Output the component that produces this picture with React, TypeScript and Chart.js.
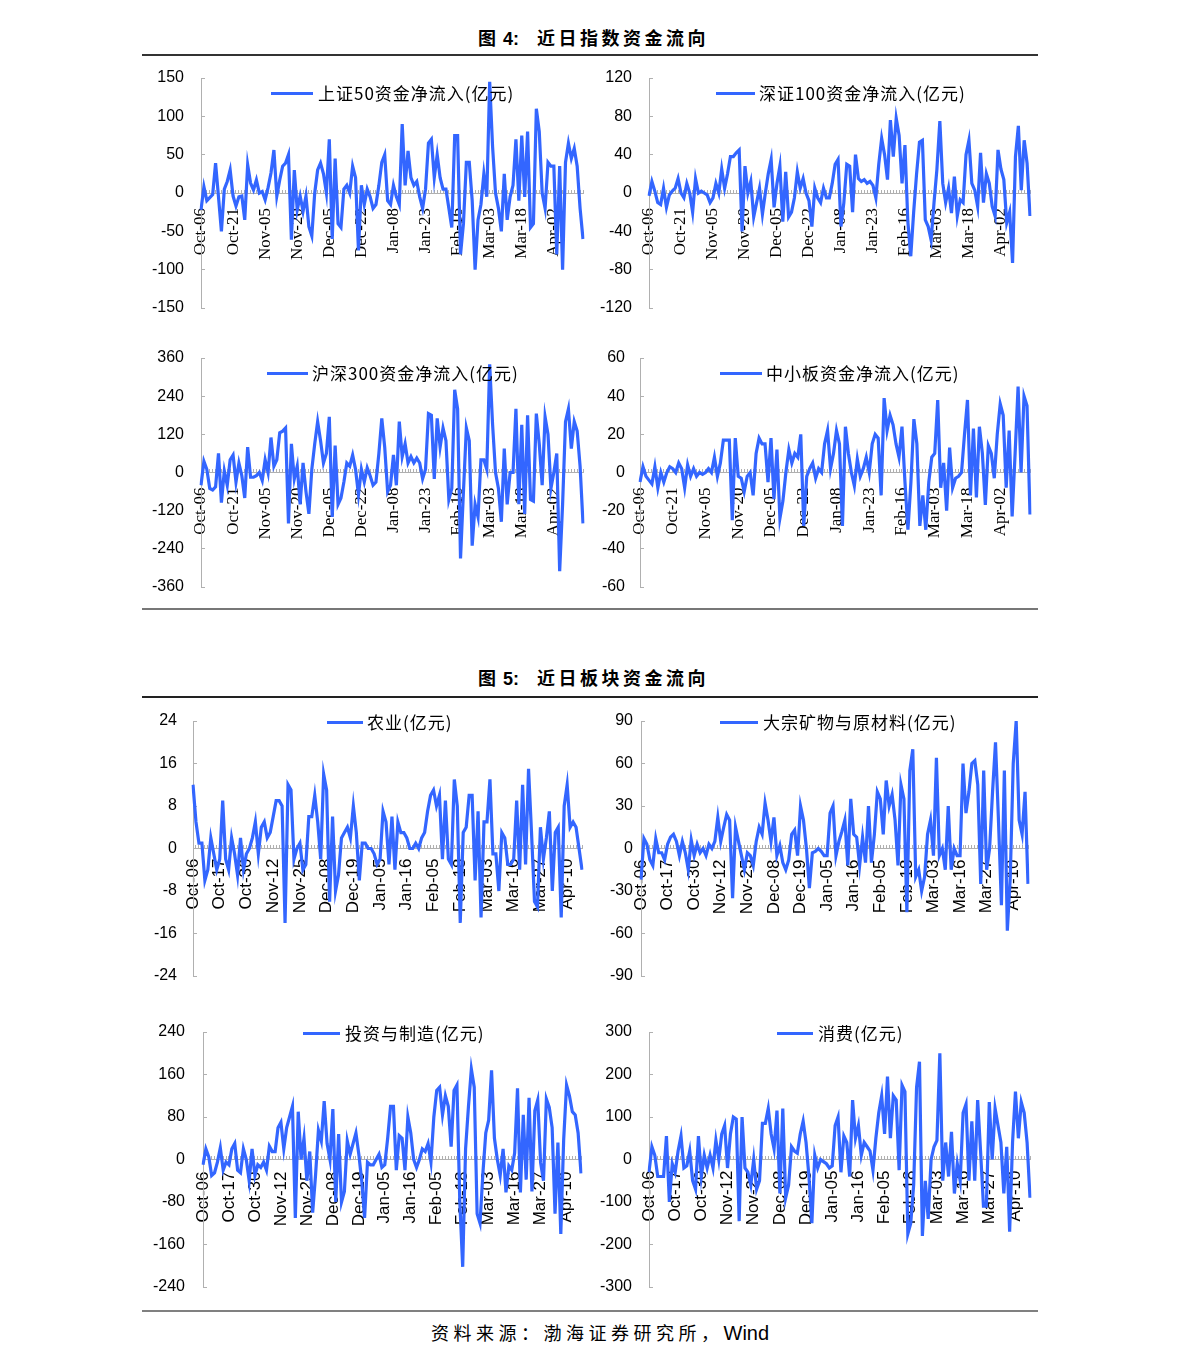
import React, { useEffect, useRef } from 'react';
import { Chart, registerables } from 'chart.js';

Chart.register(...registerables);

// ---------- data ----------
const N_POINTS = 132;

const INDEX_TICKS = ['Oct-06', 'Oct-21', 'Nov-05', 'Nov-20', 'Dec-05', 'Dec-22', 'Jan-08', 'Jan-23', 'Feb-16', 'Mar-03', 'Mar-18', 'Apr-02'];
const INDEX_TICK_STEP = 11;

const SECTOR_TICKS = ['Oct-06', 'Oct-17', 'Oct-30', 'Nov-12', 'Nov-25', 'Dec-08', 'Dec-19', 'Jan-05', 'Jan-16', 'Feb-05', 'Feb-18', 'Mar-03', 'Mar-16', 'Mar-27', 'Apr-10'];
const SECTOR_TICK_STEP = 9;

const SZ50 = [
  -22, 8, -10, -6, -2, 39, -5, -50, 5, 15, 30,
  -4, -17, -5, -4, -35, 37, 13, 4, 17, 0, 2,
  -9, 7, 26, 56, -4, 17, 35, 39, 50, -61, 30,
  -22, -4, -24, -4, -44, -56, 0, 30, 39, 25, 0,
  70, -60, 45, -40, -45, 5, 10, 0, 35, 20, -75,
  10, -15, 5, -5, -20, -15, 10, 40, 50, -10, -15,
  10, -5, -15, 90, 10, 55, 20, 10, 15, -5, -20,
  5, 65, 70, 20, 50, 20, 5, 5, -20, -45, 75,
  75, -80, -40, 40, 40, -10, -100, -35, -15, 25, -5,
  145, 60, 0, -20, -50, 25, -35, -5, 10, 70, -10,
  75, -5, 80, -45, -40, 110, 80, 0, -20, 40, 35,
  35, -80, 35, -100, 40, 65, 45, 58, 35, -20, -60,
];

const SZ100 = [
  -3, 12, 2, -10, -12, 5, -15, -2, 2, 5, 15,
  0, -5, 10, 0, -20, 15, 0, 2, 0, -2, -10,
  -5, 10, 0, 25, 5, 20, 38, 38, 42, 45, -40, 28,
  0, 12, -25, -10, 5, -22, 0, 20, 35, -15, 10,
  28, -30, 22, -25, -20, -5, 22, 5, 15, 0, -8,
  -35, 5, -5, -10, 5, -5, -5, 10, 30, 35, -35,
  -10, 30, 28, -20, 40,
  15, 12, 14, 10, 12, 8, -5, 30, 57, 40, 14, 76, 38, 78, 60, 10, 50, -30, -66, -20,
  20, 53, 55, -28, -35, -49, -10, 25, 75, 10, -10, 5, -21, 17, -24, -7, -10, 40, 55, 10,
  3, -14, 42, -10, 20, 10, -14, -24, 45, 25, 14, -31, -20, -73, 38, 70, 3, 55, 31, -24,
];

const HS300 = [
  -40, 35, 10, -50, -55, -45, 60, -95, 5, -40, 40,
  55, -30, 30, -10, -80, 80, -15, -15, -10, 0, -25,
  40, 0, 110, 20, 40, 125, 130, 140, -160, 90, -20,
  20, -100, 30, -60, -130, 10, 90, 160, 100, 30, 60,
  175, -140, 85, -100, -80, -30, 30, 20, 55, 10, -70,
  10, -30, 15, -10, -40, -30, 60, 170, 80, -60, -40,
  55, -40, 160, 50, 90, 30, 50, 30, 45, 30, -20,
  10, 185, 180, -20, 170, 80, 140, 100, -85, -50, 260,
  200, -270, -60, 140, 100, -230, -100, -140, 40, 40, 10,
  340, 150, 0, -50, -155, 75, -100, 0, 0, 200, -100,
  150, -130, 180, -85, -90, 185, 90, -40, 175, 120, -50,
  0, 60, -310, -100, 160, 200, 75, 160, 130, 20, -160,
];

const ZXB = [
  -5, 3, -2, -4, -6, 3, -8, 0, -5, 0, 3, 2,
  0, 5, 2, -8, 4, -2, 2, -2, 0, -1, 0,
  2, 0, 8, -2, 5, 17, 17, 17, -25, 18, -2,
  -3, -10, -2, 0, -12, 10, 18, 15, 15, -5, 18,
  -14, 12, -24, -15, 0, 12, 5, 10, 8, 20, -28,
  -2, 2, 5, -3, 2, 0, 15, 22, 2, 10, 22,
  15, -28, 24, 10, 0, -7, 7, -2, 2, 8, 0,
  15, 20, 18, -12, 39, 22, 30, 25, 15, 8, 24,
  -5, -30, -5, 28, 15, -28, -12, -30, -5, 8, 10,
  38, -8, 5, -20, 13, -8, -3, -2, 0, 20, 38,
  -12, 23, -13, 24, 10, -17, 14, 10, -3, 20, 36,
  30, -8, 22, -23, 10, 45, 0, 40, 35, -22,
];

const AGRI = [
  12, 5, 1, 1, -6, -4, 2, -1, -4, -2,
  9, -2, -4, 2, -1, -5, 2, -4, -1,
  0, 2, 5, -1, 4, 5, 2, 3, 6,
  9, 9, 8, -14, 12, 11, -2, 0, 1,
  -4, -3, 6, 6, 10, 5, -2, 14, 11,
  -10, 6, -8, -5, 2, 3, 4, 2, 8,
  3, -6, 1, 1, 0, 0, -1, -3, -2,
  7, 5, -3, 6, -4, 5, 3, 3, 2,
  0, 0, 1, 0, 2, 3, 7, 10, 11,
  8, 10, -2, 9, -2, -3, 13, 8, -14,
  3, 4, 10, 10, -6, 7, -13, 5, 5,
  13, -1, -1, -8, 3, 2, -3, -3, -2,
  9, -4, 12, -3, 15, 3, -10, -11, 4,
  -2, 2, 7, -8, 3, 4, -13, 8, 12,
  4, 5, 4, 0, -4,
];

const MATERIALS = [
  -22, 7, 3, -8, -12, 7, -3, -3, -8, 3,
  8, 10, 5, -5, 5, -3, -15, 6, -5,
  3, -3, 0, -5, 3, 0, 5, 22, 5,
  15, 24, 20, -35, 15, 5, -5, -15, -3,
  -5, -12, 5, 15, 10, 32, 20, 5, 22,
  -5, 2, -10, -15, -8, 10, 13, -5, 30,
  20, 0, -28, -3, -2, 0, -2, -5, -5,
  25, 30, -5, 5, 12, 20, -12, 35, 10,
  8, -12, 8, -10, 30, -10, 10, 40, 35,
  10, 48, 30, 38, 20, -12, 45, 35, -45,
  55, 70, -20, -15, -30, -20, 10, 20, -5,
  64, -5, 0, -15, 30, -15, 0, -5, -5,
  60, 25, 40, 60, 62, 45, -25, 55, -15,
  0, 40, 75, 20, -40, 55, -58, -20, 60,
  90, 20, 10, 40, -25,
];

const INVEST = [
  -10, 20, 5, -30, -25, -5, 22, -20, -5, -10,
  20, 30, -20, -25, 20, 0, -40, 20, -30,
  -10, -15, -5, -20, 25, 15, 15, 60, 70,
  20, 60, 80, 100, -110, 90, 0, 40, -40,
  15, -100, -30, 55, 35, 110, 30, 0, 95,
  -80, 48, -80, -60, 35, 10, 30, 50, 10,
  -40, -110, -5, -10, -10, 0, 10, -15, -10,
  40, 100, 100, -20, 45, 40, -20, 80, 50,
  0, -15, 0, 20, 15, 30, -5, 80, 130,
  136, 84, 120, 100, 24, 130, 140, -80, -202, 20,
  100, 170, 136, -102, -120, -26, 50, 74, 168, 40,
  0, -30, 20, -62, -12, -20, 12, 134, -62, 84,
  -38, 116, -60, 92, 112, -6, -40, 114, 98, 60,
  -102, 32, -140, 38, 140, 120, 90, 84, 50, -26,
];

const CONSUME = [
  -30, 30, 10, -40, -40, -40, 55, -100, -10, -30,
  20, 55, -20, -15, 20, -50, -70, 55, -40,
  10, -20, 10, -20, 45, 0, 60, 80, -20,
  60, 100, 95, -145, 100, -20, -30, -60, 0,
  -70, -50, 85, 85, 120, 60, 25, 115, -80,
  120, -90, -60, 30, 20, 15, 60, 90, 40,
  -40, -150, 10, -20, 0, -5, -10, -20, -15,
  80, 100, -30, 55, 40, -40, 140, 50, 80,
  10, 40, 30, 20, -25, 50, 110, 150, 60,
  195, 50, 150, 140, -25, 175, 160, -175, -150,
  -60, 170, 230, -180, -50, -140, 0, 30, 45,
  250, -50, 40, -40, 65, -80, -10, -50, 110,
  130, -50, 90, -50, 140, 20, -110, -110, 135,
  0, 120, 80, 40, -80, 30, -170, 40, 160,
  50, 135, 110, 40, -90,
];

// ---------- styles ----------
const LINE_COLOR = '#3366ff';
const AXIS_COLOR = '#b0b0b0';
const SERIF = '"Liberation Serif", "Times New Roman", serif';
const SANS = '"Liberation Sans", Arial, sans-serif';
const CJK = '"Noto Sans CJK SC", sans-serif';

type Panel = {
  name: string;
  data: number[];
  min: number;
  max: number;
  step: number;
  ticks: string[];
  tickStep: number;
  xFont: string;
  xSize: number;
  axisX: number;
  rightX: number;
  topY: number;
  bottomY: number;
  yGap: number;
  xGap: number;
  legendX1: number;
  legendX2: number;
  legendTextX: number;
  legendY: number;
};

const PANELS: Panel[] = [
  { name: '上证50资金净流入(亿元)', data: SZ50, min: -150, max: 150, step: 50, ticks: INDEX_TICKS, tickStep: INDEX_TICK_STEP, xFont: SERIF, xSize: 17,
    axisX: 201, rightX: 583, topY: 78, bottomY: 308, yGap: 17, xGap: 15, legendX1: 271, legendX2: 313, legendTextX: 318, legendY: 93 },
  { name: '深证100资金净流入(亿元)', data: SZ100, min: -120, max: 120, step: 40, ticks: INDEX_TICKS, tickStep: INDEX_TICK_STEP, xFont: SERIF, xSize: 17,
    axisX: 649, rightX: 1030, topY: 78, bottomY: 308, yGap: 17, xGap: 15, legendX1: 716, legendX2: 755, legendTextX: 759, legendY: 93 },
  { name: '沪深300资金净流入(亿元)', data: HS300, min: -360, max: 360, step: 120, ticks: INDEX_TICKS, tickStep: INDEX_TICK_STEP, xFont: SERIF, xSize: 17,
    axisX: 201, rightX: 583, topY: 358, bottomY: 587, yGap: 17, xGap: 15, legendX1: 267, legendX2: 308, legendTextX: 312, legendY: 373 },
  { name: '中小板资金净流入(亿元)', data: ZXB, min: -60, max: 60, step: 20, ticks: INDEX_TICKS, tickStep: INDEX_TICK_STEP, xFont: SERIF, xSize: 17,
    axisX: 640, rightX: 1030, topY: 358, bottomY: 587, yGap: 15, xGap: 15, legendX1: 720, legendX2: 762, legendTextX: 766, legendY: 373 },
  { name: '农业(亿元)', data: AGRI, min: -24, max: 24, step: 8, ticks: SECTOR_TICKS, tickStep: SECTOR_TICK_STEP, xFont: SANS, xSize: 17,
    axisX: 193, rightX: 582, topY: 721, bottomY: 976, yGap: 16, xGap: 10, legendX1: 327, legendX2: 363, legendTextX: 367, legendY: 722 },
  { name: '大宗矿物与原材料(亿元)', data: MATERIALS, min: -90, max: 90, step: 30, ticks: SECTOR_TICKS, tickStep: SECTOR_TICK_STEP, xFont: SANS, xSize: 17,
    axisX: 641, rightX: 1028, topY: 721, bottomY: 976, yGap: 8, xGap: 11, legendX1: 720, legendX2: 758, legendTextX: 763, legendY: 722 },
  { name: '投资与制造(亿元)', data: INVEST, min: -240, max: 240, step: 80, ticks: SECTOR_TICKS, tickStep: SECTOR_TICK_STEP, xFont: SANS, xSize: 17,
    axisX: 203, rightX: 581, topY: 1032, bottomY: 1287, yGap: 18, xGap: 12, legendX1: 303, legendX2: 340, legendTextX: 345, legendY: 1033 },
  { name: '消费(亿元)', data: CONSUME, min: -300, max: 300, step: 100, ticks: SECTOR_TICKS, tickStep: SECTOR_TICK_STEP, xFont: SANS, xSize: 17,
    axisX: 649, rightX: 1030, topY: 1032, bottomY: 1287, yGap: 17, xGap: 11, legendX1: 777, legendX2: 813, legendTextX: 818, legendY: 1033 },
];

const Y_AXIS_W = 80;
const PAD_T = 14;
const PAD_B = 14;
const PAD_R = 10;
const TICK_LEN = -4;

function ChartPanel({ p }: { p: Panel }) {
  const ref = useRef<HTMLCanvasElement | null>(null);
  const left = p.axisX - Y_AXIS_W;
  const top = p.topY - PAD_T;
  const width = p.rightX - left + PAD_R;
  const height = p.bottomY - top + PAD_B;

  useEffect(() => {
    if (!ref.current) return;
    const labels = Array.from({ length: N_POINTS }, (_, i) =>
      i % p.tickStep === 0 ? (p.ticks[i / p.tickStep] ?? '') : ''
    );
    const chart = new Chart(ref.current, {
      type: 'line',
      data: {
        labels,
        datasets: [
          {
            data: p.data,
            borderColor: LINE_COLOR,
            backgroundColor: LINE_COLOR,
            borderWidth: 3.2,
            pointRadius: 0,
            tension: 0,
            fill: false,
          },
        ],
      },
      options: {
        animation: false,
        responsive: false,
        maintainAspectRatio: false,
        layout: { padding: { top: PAD_T, bottom: PAD_B, left: 0, right: PAD_R } },
        plugins: { legend: { display: false }, tooltip: { enabled: false } },
        scales: {
          x: {
            type: 'category',
            position: { y: 0 } as any,
            offset: false,
            z: 1,
            afterFit: (scale: any) => {
              scale.paddingLeft = 0;
              scale.paddingRight = 0;
              scale.paddingTop = 0;
              scale.paddingBottom = 0;
            },
            grid: { display: true, drawOnChartArea: false, drawTicks: true, tickLength: TICK_LEN, color: AXIS_COLOR, lineWidth: 1 },
            border: { display: true, color: AXIS_COLOR, width: 1 },
            ticks: {
              autoSkip: false,
              minRotation: 90,
              maxRotation: 90,
              padding: p.xGap - TICK_LEN,
              color: '#000',
              font: { family: p.xFont, size: p.xSize },
            },
          },
          y: {
            position: 'left',
            min: p.min,
            max: p.max,
            afterFit: (scale: any) => {
              scale.width = Y_AXIS_W;
              scale.paddingTop = 0;
              scale.paddingBottom = 0;
              scale.paddingLeft = 0;
              scale.paddingRight = 0;
            },
            grid: { display: true, drawOnChartArea: false, drawTicks: true, tickLength: TICK_LEN, color: AXIS_COLOR, lineWidth: 1 },
            border: { display: true, color: AXIS_COLOR, width: 1 },
            ticks: {
              stepSize: p.step,
              padding: p.yGap - TICK_LEN,
              color: '#000',
              font: { family: SANS, size: 16 },
            },
          },
        },
      },
    });
    return () => chart.destroy();
  }, [p]);

  return (
    <>
      <canvas
        ref={ref}
        width={width}
        height={height}
        style={{ position: 'absolute', left, top, width, height }}
      />
      <div
        style={{
          position: 'absolute',
          left: p.legendX1,
          top: p.legendY - 1.5,
          width: p.legendX2 - p.legendX1,
          height: 3,
          background: LINE_COLOR,
        }}
      />
      <div
        style={{
          position: 'absolute',
          left: p.legendTextX,
          top: p.legendY - 12,
          height: 24,
          lineHeight: '24px',
          fontFamily: CJK,
          fontSize: 17,
          letterSpacing: 1,
          whiteSpace: 'nowrap',
          color: '#000',
        }}
      >
        {p.name}
      </div>
    </>
  );
}

function FigureTitle({ num, text, y }: { num: string; text: string; y: number }) {
  return (
    <div
      style={{
        position: 'absolute',
        left: 478,
        top: y - 12,
        height: 24,
        lineHeight: '24px',
        fontFamily: CJK,
        fontSize: 18,
        fontWeight: 'bold',
        whiteSpace: 'nowrap',
        color: '#000',
      }}
    >
      <span>图</span>
      <span style={{ fontFamily: SANS, marginLeft: 7 }}>{num}:</span>
      <span style={{ marginLeft: 18, letterSpacing: 3.5 }}>{text}</span>
    </div>
  );
}

function Rule({ y, h, color }: { y: number; h: number; color: string }) {
  return <div style={{ position: 'absolute', left: 142, top: y - h / 2, width: 896, height: h, background: color }} />;
}

export default function App() {
  return (
    <div style={{ position: 'absolute', left: 0, top: 0, width: 1191, height: 1364, background: '#fff' }}>
      <FigureTitle num="4" text="近日指数资金流向" y={37} />
      <Rule y={55} h={1.5} color="#333" />
      {PANELS.slice(0, 4).map((p) => (
        <ChartPanel key={p.name} p={p} />
      ))}
      <Rule y={609} h={2} color="#777" />
      <FigureTitle num="5" text="近日板块资金流向" y={677} />
      <Rule y={697} h={1.5} color="#222" />
      {PANELS.slice(4).map((p) => (
        <ChartPanel key={p.name} p={p} />
      ))}
      <Rule y={1311} h={2} color="#808080" />
      <div
        style={{
          position: 'absolute',
          left: 431,
          top: 1320,
          height: 24,
          lineHeight: '24px',
          fontFamily: CJK,
          fontSize: 18,
          whiteSpace: 'nowrap',
          color: '#000',
        }}
      >
        <span style={{ letterSpacing: 4.5 }}>资料来源：渤海证券研究所，</span>
        <span style={{ fontFamily: SANS, fontSize: 20 }}>Wind</span>
      </div>
    </div>
  );
}
